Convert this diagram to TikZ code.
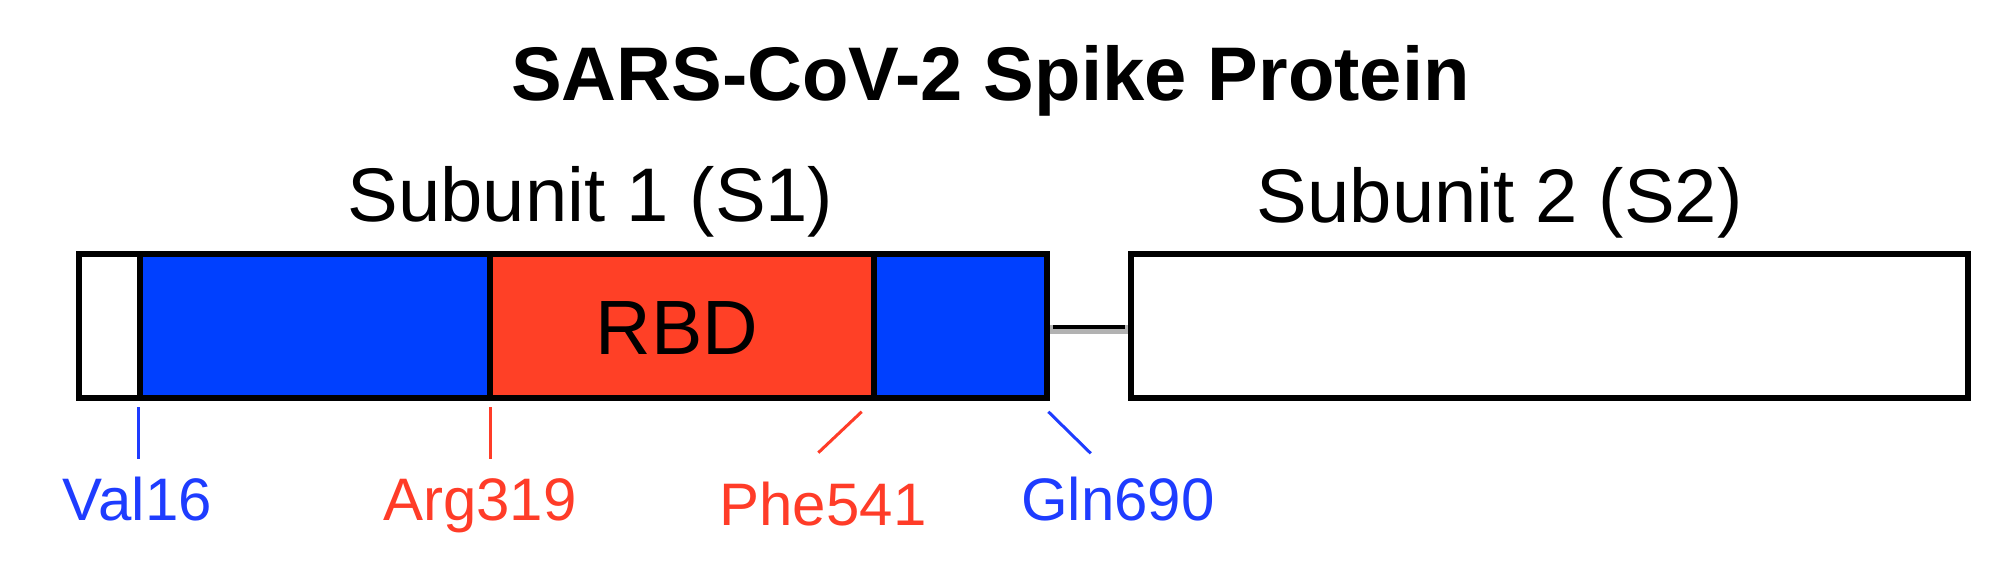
\documentclass[tikz,border=0pt]{standalone}
\usepackage{fontspec}
\setmainfont{Liberation Sans}
\definecolor{sblue}{RGB}{0,64,255}
\definecolor{sred}{RGB}{255,64,38}
\definecolor{lblue}{RGB}{30,60,255}
\definecolor{lred}{RGB}{255,60,40}
\begin{document}
\begin{tikzpicture}[x=1pt,y=-1pt,
  seg/.style={draw=black,line width=6pt,inner sep=0pt,minimum height=143.5pt,anchor=west},
  bigtext/.style={inner sep=0pt,anchor=base,font=\fontsize{76pt}{80pt}\selectfont},
  lbl/.style={inner sep=0pt,anchor=base,font=\fontsize{60pt}{64pt}\selectfont},
  tick/.style={line width=3pt}]
\useasboundingbox[fill=white] (0,0) rectangle (2012,566);
% title and subunit labels
\node[bigtext,font=\fontsize{76pt}{80pt}\selectfont\bfseries] (title) at (990.4,100.7) {SARS-CoV-2 Spike Protein};
\node[bigtext] (sub1) at (590.5,221) {Subunit 1 (S1)};
\node[bigtext] (sub2) at (1499.7,222) {Subunit 2 (S2)};
% segments
\node[seg,fill=white,minimum width=60.7pt] (nterm) at (76.3,325.75) {};
\node[seg,fill=sblue,minimum width=350pt] (ntd) at (137,325.75) {};
\node[seg,fill=sred,minimum width=384pt] (rbd) at (487,325.75) {};
\node[seg,fill=sblue,minimum width=173pt] (ctd) at (871,325.75) {};
\node[seg,fill=white,minimum width=837pt] (s2) at (1128,325.75) {};
\node[inner sep=0pt,anchor=base,font=\fontsize{77pt}{80pt}\selectfont] (rbdlabel) at (677,354) {RBD};
% linker
\draw[line width=9pt,black!30] ([yshift=-3.75pt]ctd.east) -- ([yshift=-3.75pt]s2.west);
\draw[line width=4.3pt,black] ([xshift=3pt,yshift=-1.5pt]ctd.east) -- ([xshift=-3pt,yshift=-1.5pt]s2.west);
% ticks
\coordinate (v1) at (138,407); \coordinate (v2) at (138,459);
\coordinate (a1) at (490,407); \coordinate (a2) at (490,459);
\coordinate (p1) at (861.7,411.7); \coordinate (p2) at (818.3,452.7);
\coordinate (g1) at (1048.3,411.7); \coordinate (g2) at (1090.7,453.3);
\draw[tick,lblue] (v1) -- (v2);
\draw[tick,lred] (a1) -- (a2);
\draw[tick,lred] (p1) -- (p2);
\draw[tick,lblue] (g1) -- (g2);
% residue labels
\node[lbl,text=lblue] (val) at (137.5,520.7) {Val16};
\node[lbl,text=lred] (arg) at (480,520.7) {Arg319};
\node[lbl,text=lred] (phe) at (823,525) {Phe541};
\node[lbl,text=lblue] (gln) at (1118,520.7) {Gln690};
\end{tikzpicture}
\end{document}
